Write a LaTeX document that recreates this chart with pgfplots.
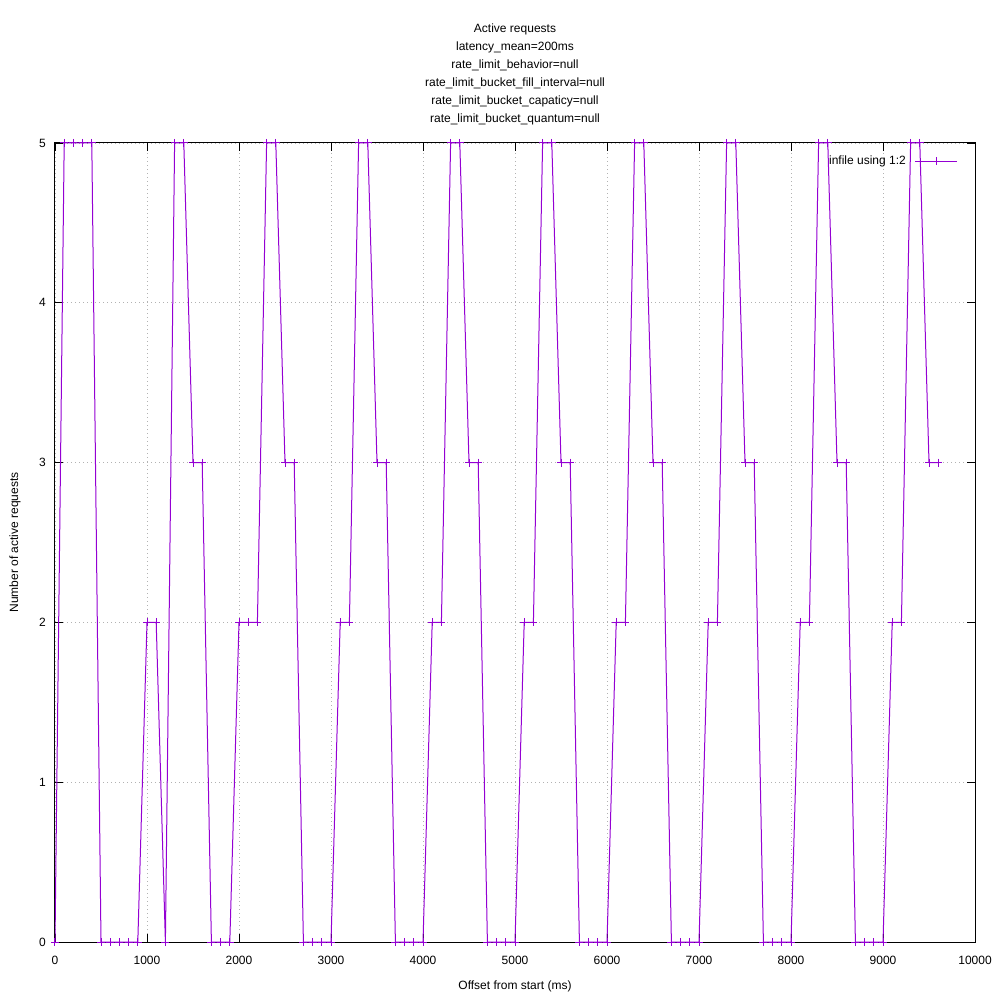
\documentclass[border=0pt]{standalone}
\usepackage{fontspec}
\setmainfont{Liberation Sans}
\usepackage{pgfplots}
\pgfplotsset{compat=1.18}
\definecolor{gpviolet}{RGB}{148,0,211}

\begin{document}
\begin{tikzpicture}
% page frame: 1000 x 1000 px, axis box at (55,143)-(975,942)
\path (-55pt,-58pt) rectangle (945pt,942pt);
\begin{axis}[
    at={(0pt,0pt)}, anchor=south west,
    scale only axis,
    width=920pt, height=799pt,
    xmin=0, xmax=10000,
    ymin=0, ymax=5,
    xtick={0,1000,...,10000},
    ytick={0,1,2,3,4,5},
    scaled x ticks=false,
    /pgf/number format/1000 sep={},
    /pgf/number format/assume math mode=true,
    font=\fontsize{12}{14}\selectfont,
    tick align=inside,
    major tick length=8pt,
    tick style={black, line width=0.8pt},
    axis line style={black, line width=1pt},
    grid=major,
    major grid style={draw=black!30, line width=0.8pt, dash pattern=on 1pt off 3pt},
    xticklabel style={inner sep=0pt, anchor=north, yshift=-13.5pt},
    yticklabel style={inner sep=0pt, anchor=east, xshift=-9pt},
    title={Active requests\\latency\_mean=200ms\\rate\_limit\_behavior=null\\rate\_limit\_bucket\_fill\_interval=null\\rate\_limit\_bucket\_capaticy=null\\rate\_limit\_bucket\_quantum=null},
    title style={at={(axis description cs:0.5,1)}, anchor=north, yshift=113pt,
                 inner sep=0pt, align=center, font=\fontsize{12}{18}\selectfont},
    xlabel={Offset from start (ms)},
    ylabel={Number of active requests},
    every axis x label/.style={at={(axis description cs:0.5,0)}, anchor=north, inner sep=0pt, yshift=-39pt},
    every axis y label/.style={at={(axis description cs:-0.04348,0.5)}, anchor=center, rotate=90, inner sep=0pt},
    legend plot pos=right,
    legend cell align=right,
    legend image code/.code={
        \draw[mark repeat=2, mark phase=2] plot coordinates {(0pt,0pt) (21pt,0pt) (42pt,0pt)};
    },
    legend style={
        at={(axis description cs:1,1)}, anchor=north east,
        xshift=-17pt, yshift=-13pt,
        draw=none, fill=none, inner sep=0pt,
        font=\fontsize{12}{14}\selectfont,
        nodes={inner sep=0pt},
        /tikz/column sep=9pt
    },
]
\addplot[color=gpviolet, line width=1pt, mark=+, mark size=4pt, mark options={solid}]
    coordinates {
    (0,0) (100,5) (200,5) (300,5) (400,5) (500,0) (600,0) (700,0) (800,0) (900,0)
    (1000,2) (1100,2) (1200,0) (1300,5) (1400,5) (1500,3) (1600,3) (1700,0) (1800,0) (1900,0)
    (2000,2) (2100,2) (2200,2) (2300,5) (2400,5) (2500,3) (2600,3) (2700,0) (2800,0) (2900,0)
    (3000,0) (3100,2) (3200,2) (3300,5) (3400,5) (3500,3) (3600,3) (3700,0) (3800,0) (3900,0)
    (4000,0) (4100,2) (4200,2) (4300,5) (4400,5) (4500,3) (4600,3) (4700,0) (4800,0) (4900,0)
    (5000,0) (5100,2) (5200,2) (5300,5) (5400,5) (5500,3) (5600,3) (5700,0) (5800,0) (5900,0)
    (6000,0) (6100,2) (6200,2) (6300,5) (6400,5) (6500,3) (6600,3) (6700,0) (6800,0) (6900,0)
    (7000,0) (7100,2) (7200,2) (7300,5) (7400,5) (7500,3) (7600,3) (7700,0) (7800,0) (7900,0)
    (8000,0) (8100,2) (8200,2) (8300,5) (8400,5) (8500,3) (8600,3) (8700,0) (8800,0) (8900,0)
    (9000,0) (9100,2) (9200,2) (9300,5) (9400,5) (9500,3) (9600,3)
    };
\addlegendentry{infile using 1:2}
\end{axis}
\end{tikzpicture}
\end{document}
